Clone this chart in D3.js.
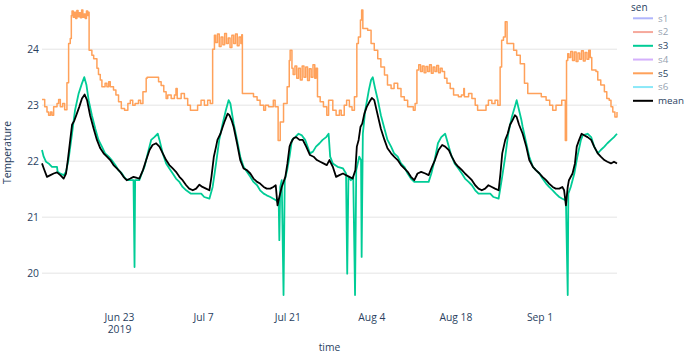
<!DOCTYPE html>
<html>
<head>
<meta charset="utf-8">
<script src="https://cdn.jsdelivr.net/npm/d3@7"></script>
<style>
body { margin: 0; background: #fff; }
text { font-family: "Open Sans", verdana, arial, sans-serif; fill: #2a3f5f; }
</style>
</head>
<body>
<svg id="svg" width="685" height="355"></svg>
<script>
// readings: [days since 2019-06-10, temperature]
var s5 = [[0.1,23.10],[0.55,22.97],[0.93,22.88],[1.2,22.82],[1.5,22.88],[1.76,22.82],[2.04,22.97],[2.6,23.03],[2.87,23.10],[3.15,22.97],[3.54,23.03],[3.87,22.92],[4.25,23.40],[4.53,24.10],[4.8,24.19],[4.98,24.60],
	[5.1,24.68],[5.3,24.57],[5.5,24.66],[5.7,24.55],[5.9,24.69],[6.1,24.58],[6.3,24.65],[6.5,24.56],[6.7,24.70],[6.9,24.57],[7.1,24.63],[7.3,24.55],[7.5,24.68],[7.7,24.60],[7.85,24.66],
	[7.94,23.98],[8.4,23.89],[8.7,23.83],[9.24,23.66],[9.5,23.55],[9.8,23.45],[10.07,23.33],[10.6,23.39],[10.9,23.33],[11.2,23.42],[11.46,23.33],[12.0,23.27],[12.4,23.18],[12.84,23.06],[13.3,22.94],[13.84,22.91],[14.39,23.03],[14.8,23.09],[15.2,23.0],[15.6,23.03],[16.16,23.09],[16.5,23.03],[16.9,23.24],[17.44,23.48],[17.6,23.50],[19.37,23.50],[19.5,23.42],[19.93,23.35],[20.37,23.24],[20.76,23.12],[21.03,23.18],[21.6,23.12],[22.14,23.18],[22.4,23.30],[22.6,23.12],[23.26,23.21],[23.8,23.12],[24.35,23.0],[24.8,22.91],[25.75,22.91],[26.0,23.0],[26.57,23.09],[27.13,23.0],[27.67,23.09],[28.1,23.03],[28.5,24.0],[28.8,24.25],
	[29.0,24.12],[29.3,24.27],[29.6,24.05],[29.9,24.22],[30.2,24.08],[30.5,24.28],[30.8,24.10],[31.1,24.20],[31.4,24.03],[31.7,24.25],[32.0,24.10],[32.3,24.27],[32.6,24.06],[32.9,24.22],[33.2,24.10],[33.35,24.26],
	[33.45,23.21],[35.05,23.21],[35.3,23.15],[35.9,23.09],[36.4,23.0],[37.0,22.91],[37.3,23.0],[37.8,22.97],[38.1,22.97],[38.6,23.09],[38.9,22.97],[39.4,22.37],[39.75,22.70],[40.3,23.03],[40.9,23.33],[41.25,23.80],[41.4,23.98],[41.7,23.66],
	[41.9,23.55],[42.2,23.70],[42.5,23.48],[42.8,23.66],[43.1,23.45],[43.4,23.70],[43.7,23.50],[44.0,23.68],[44.3,23.44],[44.6,23.65],[44.9,23.50],[45.2,23.72],[45.5,23.48],[45.7,23.66],
	[45.95,23.15],[46.4,23.06],[46.94,22.97],[47.5,22.82],[47.8,23.09],[48.2,23.09],[48.5,22.91],[49.05,22.82],[49.6,22.91],[49.9,22.82],[50.4,23.0],[50.8,23.09],[51.26,22.97],[51.7,22.91],[52.1,23.15],[52.5,24.10],[52.76,24.22],[53.1,24.52],[53.3,24.70],[53.5,24.37],[54.3,24.34],[54.87,24.10],[55.4,23.98],[55.98,23.83],[56.5,23.68],[57.1,23.54],[57.6,23.36],[58.2,23.30],[58.7,23.39],[59.3,23.30],[59.85,23.15],[60.4,23.09],[60.96,22.97],[61.9,22.91],[62.2,23.03],[62.5,23.63],
	[62.8,23.72],[63.1,23.60],[63.4,23.70],[63.7,23.58],[64.0,23.69],[64.3,23.60],[64.6,23.72],[64.9,23.57],[65.2,23.68],[65.5,23.60],[65.8,23.71],[66.1,23.58],[66.4,23.66],
	[66.7,23.60],[67.1,23.48],[67.5,23.39],[68.04,23.30],[68.6,23.18],[69.4,23.15],[69.9,23.18],[70.3,23.30],[70.4,23.15],[71.1,23.21],[71.65,23.12],[72.2,23.0],[72.6,22.91],[73.6,22.91],[74.0,23.0],[74.4,23.09],[74.97,23.03],[75.5,23.09],[75.96,23.0],[76.35,23.68],[76.6,24.16],[76.9,24.22],[77.2,24.49],[77.5,24.10],[78.0,24.10],[78.6,23.98],[79.1,23.89],[79.7,23.74],[80.4,23.39],[80.95,23.21],[82.9,23.21],[83.2,23.15],[84.0,23.09],[84.6,23.0],[85.1,22.91],[85.65,23.0],[86.2,23.0],[86.6,23.09],[86.9,23.09],[87.2,22.37],[87.4,23.80],[87.6,23.92],
	[87.8,23.85],[88.1,23.96],[88.4,23.80],[88.7,23.95],[89.0,23.78],[89.3,23.93],[89.6,23.82],[89.9,23.97],[90.2,23.79],[90.5,23.94],[90.8,23.82],[91.1,23.98],[91.35,23.85],
	[91.6,23.63],[92.3,23.60],[92.6,23.45],[93.1,23.36],[93.7,23.24],[94.1,23.12],[94.5,23.09],[94.8,22.97],[95.1,22.88],[95.45,22.79],[95.8,22.88]];

var s3 = [[0.1,22.20],[0.38,22.08],[0.76,21.99],[1.2,21.96],[1.76,21.90],[2.6,21.90],[2.7,21.81],[3.15,21.78],[3.7,21.75],[4.1,21.81],[4.5,22.02],[5.1,22.49],[5.6,22.91],[6.2,23.21],[6.75,23.39],[7.14,23.50],[7.5,23.36],[7.86,23.09],[8.4,22.82],[8.97,22.58],[9.5,22.38],[10.07,22.26],[10.6,22.14],[11.2,22.08],[11.7,22.02],[12.3,21.93],[12.84,21.84],[13.4,21.78],[13.95,21.69],[14.5,21.66],[15.33,21.66],[15.5,20.11],[15.6,21.66],[16.3,21.66],[16.6,21.75],[17.16,21.90],[17.7,22.14],[18.27,22.38],[18.8,22.43],[19.37,22.49],[19.65,22.38],[20.2,22.14],[20.76,21.96],[21.3,21.87],[21.86,21.78],[22.4,21.69],[22.97,21.63],[23.5,21.54],[24.1,21.48],[24.9,21.42],[26.6,21.42],[27.1,21.36],[27.96,21.33],[28.5,21.54],[29.07,21.96],[29.6,22.38],[30.17,22.67],[30.7,22.91],[31.16,23.09],[31.45,23.03],[32.0,22.67],[32.56,22.38],[33.1,22.08],[33.65,21.90],[34.2,21.81],[34.77,21.72],[35.3,21.63],[35.9,21.57],[36.4,21.48],[37.0,21.42],[37.5,21.39],[38.1,21.36],[38.6,21.33],[39.1,21.30],[39.5,21.24],[39.6,20.59],[39.75,21.54],[40.0,21.66],[40.3,19.61],[40.5,21.66],[40.9,21.84],[41.3,22.08],[41.7,22.38],[42.24,22.43],[42.8,22.49],[43.36,22.46],[43.9,22.38],[44.3,22.26],[44.7,22.14],[45.2,22.17],[45.7,22.26],[46.3,22.32],[46.8,22.38],[47.4,22.43],[47.8,22.49],[48.06,22.08],[48.5,21.96],[49.3,21.90],[50.2,21.87],[50.7,21.78],[50.9,19.99],[51.1,21.72],[51.5,21.66],[51.9,21.72],[52.2,19.61],[52.4,21.84],[52.9,22.08],[53.2,22.02],[53.3,20.29],[53.5,22.49],[53.9,22.91],[54.5,23.27],[54.87,23.45],[55.15,23.50],[55.6,23.27],[56.0,23.09],[56.5,22.82],[57.1,22.58],[57.6,22.38],[58.2,22.26],[58.7,22.14],[59.3,22.08],[59.85,21.96],[60.4,21.90],[60.96,21.78],[61.5,21.69],[62.06,21.63],[64.45,21.63],[64.9,21.78],[65.45,22.02],[66.0,22.32],[66.55,22.43],[67.2,22.49],[67.65,22.32],[68.2,22.11],[68.77,21.96],[69.4,21.87],[69.98,21.78],[70.5,21.69],[71.1,21.63],[71.65,21.57],[72.2,21.48],[72.75,21.42],[74.7,21.42],[75.25,21.36],[76.1,21.33],[76.6,21.66],[77.2,22.08],[77.7,22.49],[78.3,22.79],[78.8,22.97],[79.1,23.09],[79.5,22.91],[79.9,22.73],[80.1,22.61],[80.7,22.32],[81.2,22.08],[81.8,21.90],[82.3,21.84],[82.9,21.78],[83.4,21.69],[84.0,21.60],[84.5,21.54],[85.1,21.48],[85.6,21.42],[86.2,21.36],[86.7,21.33],[87.3,21.30],[87.6,19.61],[87.7,21.42],[88.1,21.54],[88.7,21.78],[89.2,22.08],[89.8,22.38],[90.1,22.46],[90.9,22.49],[91.5,22.43],[92.0,22.26],[92.6,22.14],[93.1,22.20],[93.7,22.26],[94.2,22.32],[94.8,22.38],[95.3,22.43],[95.8,22.49]];

var mean = [[0.1,21.96],[0.4,21.87],[0.93,21.72],[1.5,21.75],[2.04,21.78],[2.6,21.80],[3.15,21.75],[3.7,21.69],[4.1,21.78],[4.4,22.02],[4.8,22.38],[5.1,22.65],[5.5,22.73],[5.9,22.85],[6.3,22.97],[6.75,23.12],[7.2,23.19],[7.6,23.09],[8.1,22.82],[8.7,22.58],[9.24,22.38],[9.8,22.23],[10.35,22.14],[10.9,22.08],[11.46,22.02],[12.0,21.93],[12.56,21.87],[13.1,21.81],[13.67,21.72],[14.2,21.66],[14.8,21.69],[15.33,21.72],[15.9,21.70],[16.3,21.69],[16.9,21.84],[17.44,22.02],[18.0,22.20],[18.5,22.29],[19.1,22.32],[19.65,22.26],[20.2,22.14],[20.76,22.02],[21.3,21.93],[21.86,21.87],[22.4,21.81],[22.97,21.72],[23.5,21.66],[24.1,21.57],[24.6,21.51],[25.2,21.48],[25.75,21.51],[26.3,21.58],[26.8,21.54],[27.4,21.51],[27.96,21.48],[28.3,21.72],[28.7,22.08],[29.07,22.26],[29.3,22.38],[29.8,22.49],[30.17,22.61],[30.56,22.73],[31.0,22.85],[31.3,22.82],[31.66,22.73],[32.0,22.61],[32.56,22.32],[33.1,22.02],[33.65,21.87],[34.2,21.84],[34.77,21.78],[35.3,21.69],[35.9,21.63],[36.4,21.60],[37.0,21.54],[37.5,21.51],[38.1,21.51],[38.6,21.54],[39.0,21.57],[39.3,21.21],[39.6,21.36],[40.0,21.54],[40.6,21.72],[40.95,21.96],[41.3,22.26],[41.5,22.32],[41.96,22.41],[42.4,22.43],[42.96,22.38],[43.5,22.38],[44.07,22.26],[44.7,22.11],[45.3,22.08],[45.85,22.02],[46.4,21.99],[46.94,21.96],[47.5,21.93],[47.94,22.02],[48.5,21.90],[49.05,21.72],[49.6,21.75],[50.2,21.78],[50.7,21.75],[51.26,21.72],[51.8,21.69],[52.26,21.84],[52.5,22.26],[52.8,22.38],[53.1,22.61],[53.4,22.67],[53.75,22.85],[54.15,22.97],[54.6,23.06],[55.0,23.13],[55.4,23.09],[55.98,22.82],[56.5,22.58],[57.1,22.38],[57.6,22.23],[58.2,22.14],[58.7,22.08],[59.3,22.02],[59.85,21.93],[60.4,21.87],[60.96,21.81],[61.5,21.72],[62.06,21.66],[62.6,21.78],[63.2,21.81],[63.9,21.78],[64.45,21.75],[65.0,21.90],[65.5,22.02],[66.1,22.20],[66.7,22.29],[67.2,22.26],[67.8,22.20],[68.3,22.08],[68.9,21.96],[69.4,21.90],[70.0,21.84],[70.5,21.78],[71.1,21.72],[71.65,21.66],[72.2,21.57],[72.75,21.51],[73.3,21.48],[73.85,21.51],[74.4,21.57],[74.97,21.54],[75.5,21.51],[76.1,21.48],[76.4,21.78],[76.7,22.14],[77.2,22.38],[77.6,22.49],[78.0,22.65],[78.4,22.73],[78.8,22.82],[79.1,22.79],[79.5,22.65],[80.1,22.49],[80.7,22.26],[81.2,22.02],[81.8,21.90],[82.3,21.84],[82.9,21.78],[83.4,21.72],[84.0,21.66],[84.5,21.60],[85.1,21.54],[85.6,21.51],[86.2,21.51],[86.7,21.54],[87.0,21.48],[87.3,21.21],[87.6,21.54],[87.8,21.66],[88.4,21.78],[88.8,21.96],[89.1,22.26],[89.5,22.38],[89.9,22.49],[90.4,22.46],[90.9,22.43],[91.5,22.38],[92.0,22.26],[92.6,22.14],[93.1,22.08],[93.7,22.02],[94.2,21.99],[94.8,21.96],[95.3,21.99],[95.8,21.96]];

var legendNames = ["s1", "s2", "s3", "s4", "s5", "s6", "mean"];
var legendColors = ["#636efa", "#EF553B", "#00cc96", "#ab63fa", "#FFA15A", "#19d3f3", "#000000"];
var legendHidden = [true, true, false, true, false, true, false];

var yTickValues = [20, 21, 22, 23, 24];
var xTickLabels = ["2019-06-23", "2019-07-07", "2019-07-21", "2019-08-04", "2019-08-18", "2019-09-01"];

//////////////////////////////////////////////////////////////////////////////
var t0 = new Date(2019, 5, 10);
function toDate(d) { return new Date(t0.getTime() + d * 864e5); }

// s5 readings are quantised so it is drawn as steps
var traces = [
	{ name: "s3", data: s3, color: "#00cc96", width: 1.8, curve: d3.curveLinear },
	{ name: "s5", data: s5, color: "#FFA15A", width: 1.5, curve: d3.curveStepAfter },
	{ name: "mean", data: mean, color: "#000000", width: 1.8, curve: d3.curveLinear }
];

var all = s3.concat(s5, mean);

var plotLeft = 42, plotRight = 617, plotTop = 10, plotBottom = 295;

var x = d3.scaleTime()
	.domain(d3.extent(all, function(p) { return toDate(p[0]); }))
	.range([plotLeft, plotRight]);

var y = d3.scaleLinear()
	.domain(d3.extent(all, function(p) { return p[1]; }))
	.range([plotBottom, plotTop]);

var svg = d3.select("#svg");

// y grid + labels
svg.append("g").selectAll("line")
	.data(yTickValues).enter().append("line")
	.attr("x1", plotLeft).attr("x2", plotRight)
	.attr("y1", function(v) { return y(v); })
	.attr("y2", function(v) { return y(v); })
	.attr("stroke", "#e4e4e4").attr("stroke-width", 1);

svg.append("g").selectAll("text")
	.data(yTickValues).enter().append("text")
	.attr("x", plotLeft - 3)
	.attr("y", function(v) { return y(v); })
	.attr("dy", "0.35em")
	.attr("text-anchor", "end")
	.attr("font-size", "10.3px")
	.text(function(v) { return v; });

// x tick labels, year shown once under the first one
var parse = d3.timeParse("%Y-%m-%d");
var fmt = d3.timeFormat("%b %-d");
var xg = svg.append("g");
xg.selectAll("text.tick")
	.data(xTickLabels).enter().append("text")
	.attr("class", "tick")
	.attr("x", function(s) { return x(parse(s)); })
	.attr("y", plotBottom + 25.5)
	.attr("text-anchor", "middle")
	.attr("font-size", "10.3px")
	.text(function(s) { return fmt(parse(s)); });
xg.append("text")
	.attr("x", x(parse(xTickLabels[0])))
	.attr("y", plotBottom + 38)
	.attr("text-anchor", "middle")
	.attr("font-size", "10.3px")
	.text(d3.timeFormat("%Y")(parse(xTickLabels[0])));

// axis titles
svg.append("text")
	.attr("x", (plotLeft + plotRight) / 2).attr("y", 351)
	.attr("text-anchor", "middle").attr("font-size", "10.3px")
	.text("time");

svg.append("text")
	.attr("transform", "translate(11," + ((plotTop + plotBottom) / 2) + ") rotate(-90)")
	.attr("text-anchor", "middle").attr("font-size", "10.3px")
	.text("Temperature");

// lines
svg.append("g").selectAll("path")
	.data(traces).enter().append("path")
	.attr("d", function(t) {
		return d3.line()
			.x(function(p) { return x(toDate(p[0])); })
			.y(function(p) { return y(p[1]); })
			.curve(t.curve)(t.data);
	})
	.attr("fill", "none")
	.attr("stroke", function(t) { return t.color; })
	.attr("stroke-width", function(t) { return t.width; })
	.attr("stroke-linejoin", "round");

// legend
var lg = svg.append("g");
lg.append("text").attr("x", 631).attr("y", 11)
	.attr("font-size", "10px").text("sen");

var items = lg.selectAll("g.item")
	.data(legendNames).enter().append("g")
	.attr("class", "item")
	.attr("transform", function(n, i) { return "translate(0," + (18.3 + i * 13.75) + ")"; })
	.attr("opacity", function(n, i) { return legendHidden[i] ? 0.5 : 1; });

items.append("line")
	.attr("x1", 633).attr("x2", 653)
	.attr("stroke", function(n, i) { return legendColors[i]; })
	.attr("stroke-width", 2);

items.append("text")
	.attr("x", 658).attr("dy", "0.35em")
	.attr("font-size", "9.8px")
	.text(function(n) { return n; });
</script>
</body>
</html>
